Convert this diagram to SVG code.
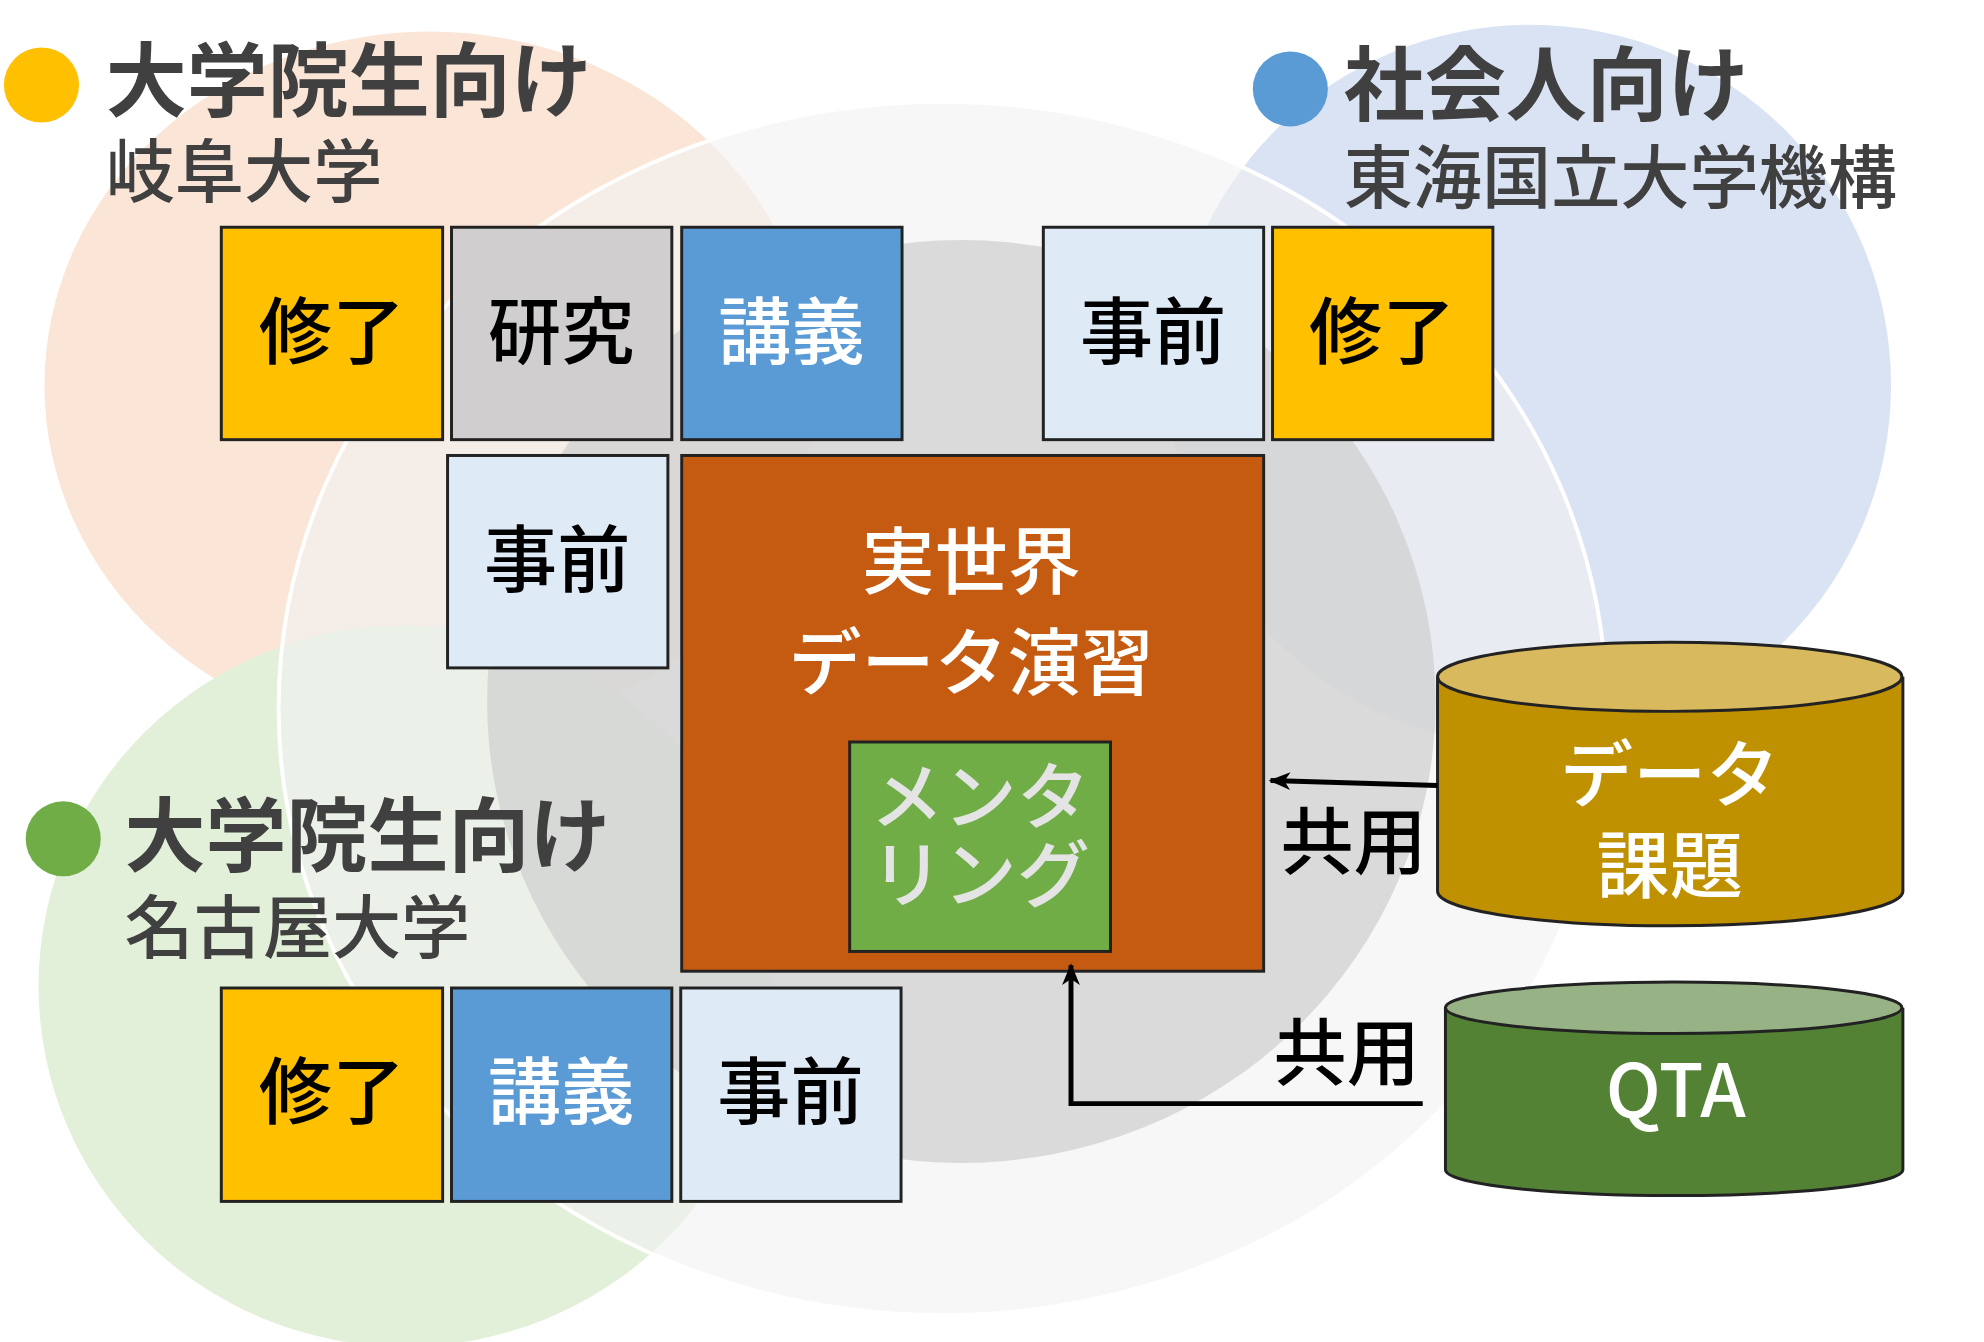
<svg xmlns="http://www.w3.org/2000/svg" width="1984" height="1342" viewBox="0 0 1984 1342">
<style>
.bx{stroke:#222;stroke-width:3}
.bt{font-family:"Noto Sans CJK JP",sans-serif;font-size:74px;text-anchor:middle;font-weight:500}
.h{font-family:"Noto Sans CJK JP",sans-serif;font-size:82px;font-weight:bold;fill:#404040}
.s{font-family:"Noto Sans CJK JP",sans-serif;font-size:70px;font-weight:500;fill:#404040}
.w{fill:#fff}
</style>
<defs>
<marker id="b" markerWidth="22" markerHeight="22" refX="20" refY="11" orient="auto" markerUnits="userSpaceOnUse"><path d="M0,2L22,11L0,20L6,11z" fill="#000"/></marker></defs>
<rect width="1984" height="1342" fill="#fff"/>
<g transform="scale(0.988)">
<g id="backgrounds">
<ellipse cx="435" cy="390" rx="390" ry="358" fill="#FBE5D6"/>
<ellipse cx="1549" cy="390" rx="365" ry="365" fill="#DAE3F3"/>
<ellipse cx="410" cy="998" rx="371" ry="365" fill="#E2F0D9"/>
<ellipse cx="954" cy="717" rx="672" ry="614" fill="#F2F2F2" fill-opacity="0.6" stroke="#fff" stroke-width="4"/>
<ellipse cx="973" cy="710" rx="480" ry="467" fill="#D0D0D0" fill-opacity="0.75"/>
</g>
<g id="titles">
<circle cx="42" cy="86" r="38" fill="#FFC000"/>
<text class="h" x="107" y="111">大学院生向け</text>
<text class="s" x="107" y="199">岐阜大学</text>
<circle cx="1306" cy="90" r="38" fill="#5B9BD5"/>
<text class="h" x="1360" y="115">社会人向け</text>
<text class="s" x="1360" y="205">東海国立大学機構</text>
<circle cx="64" cy="849" r="38" fill="#70AD47"/>
<text class="h" x="126" y="875">大学院生向け</text>
<text class="s" x="126" y="965">名古屋大学</text>
</g>
<g id="n1"><rect class="bx" x="224" y="230" width="224" height="215" fill="#FFC000"/><text class="bt" x="336" y="362">修了</text></g>
<g id="n2"><rect class="bx" x="457" y="230" width="223" height="215" fill="#D0CECE"/><text class="bt" x="568" y="362">研究</text></g>
<g id="n3"><rect class="bx" x="690" y="230" width="223" height="215" fill="#5B9BD5"/><text class="bt w" x="801" y="362">講義</text></g>
<g id="n4"><rect class="bx" x="1056" y="230" width="223" height="215" fill="#DEEBF7"/><text class="bt" x="1167" y="362">事前</text></g>
<g id="n5"><rect class="bx" x="1288" y="230" width="223" height="215" fill="#FFC000"/><text class="bt" x="1399" y="362">修了</text></g>
<g id="n6"><rect class="bx" x="453" y="461" width="223" height="215" fill="#DEEBF7"/><text class="bt" x="564" y="593">事前</text></g>
<g id="n7"><rect class="bx" x="690" y="461" width="589" height="522" fill="#C55A11"/>
<text class="bt w" x="983" y="595" font-size="88">実世界</text><text class="bt w" x="983" y="697" font-size="90">データ演習</text></g>
<g id="n8"><rect class="bx" x="860" y="751" width="264" height="212" fill="#70AD47"/>
<text class="bt" fill="#E4E4E4" x="992" y="833" font-size="60">メンタ</text><text class="bt" fill="#E4E4E4" x="992" y="912" font-size="60">リング</text></g>
<g id="n9"><rect class="bx" x="224" y="1000" width="224" height="216" fill="#FFC000"/><text class="bt" x="336" y="1132">修了</text></g>
<g id="n10"><rect class="bx" x="457" y="1000" width="223" height="216" fill="#5B9BD5"/><text class="bt w" x="568" y="1132">講義</text></g>
<g id="n11"><rect class="bx" x="689" y="1000" width="223" height="216" fill="#DEEBF7"/><text class="bt" x="800" y="1132">事前</text></g>
<g id="db1"><path d="M1455,685V902A235,35 0 0 0 1926,902V685" fill="#BF9000" stroke="#222" stroke-width="3"/>
<ellipse cx="1690" cy="685" rx="235" ry="35" fill="#D9B95E" stroke="#222" stroke-width="3"/>
<text class="bt w" x="1690" y="811">データ</text><text class="bt w" x="1690" y="903">課題</text></g>
<g id="db2"><path d="M1463,1020V1184A231,26 0 0 0 1926,1184V1020" fill="#548235" stroke="#222" stroke-width="3"/>
<ellipse cx="1694" cy="1020" rx="231" ry="26" fill="#97B386" stroke="#222" stroke-width="3"/>
<text class="bt w" x="1696" y="1131" font-family="'Noto Sans',sans-serif" font-weight="400">QTA</text></g>
<g id="connectors" fill="none" stroke="#000" stroke-width="5">
<path d="M1455,795L1286,790" marker-end="url(#b)"/>
<path d="M1440,1117H1084V977" marker-end="url(#b)"/>
</g>
<g id="labels"><text class="bt" x="1370" y="879" font-size="72">共用</text><text class="bt" x="1363" y="1092" font-size="72">共用</text></g>
</g>
</svg>
